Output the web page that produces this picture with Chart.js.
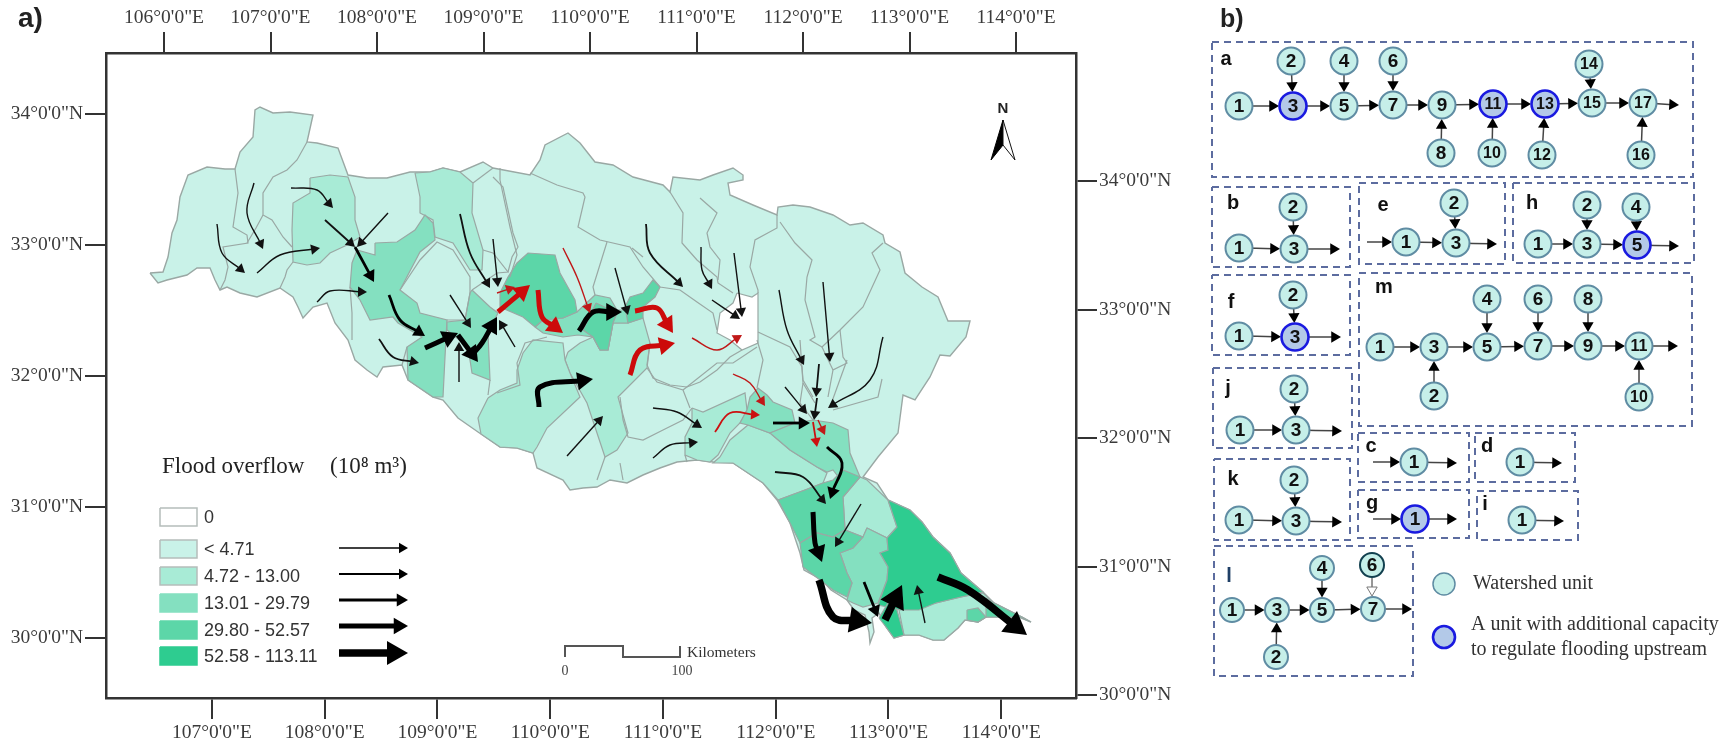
<!DOCTYPE html>
<html>
<head>
<meta charset="utf-8">
<title>Flood overflow</title>
<script src="https://cdn.jsdelivr.net/npm/chart.js@4/dist/chart.umd.min.js"></script>
<style>
  html, body { margin: 0; padding: 0; background: #fff; }
  #mapChart { position: absolute; left: 0; top: 0; }
  #netChart { position: absolute; left: 1190px; top: 0; }
</style>
</head>
<body>
<canvas id="mapChart" width="1190" height="748"></canvas>
<canvas id="netChart" width="534" height="748"></canvas>
<script>
// ---- graticule ticks (degrees) ----
const topLon = [106, 107, 108, 109, 110, 111, 112, 113, 114];
const bottomLon = [107, 108, 109, 110, 111, 112, 113, 114];
const leftLat = [30, 31, 32, 33, 34];
const rightLat = [30, 31, 32, 33, 34];

// ---- legend ----
const legendLabels = ['0', '< 4.71', '4.72 - 13.00', '13.01 - 29.79', '29.80 - 52.57', '52.58 - 113.11'];
const classColors = ['#ffffff', '#c9f2e8', '#a8ebd6', '#84e0c0', '#5cd6a8', '#2ecc90'];

// ---- map geometry, in map units east / south of the frame corner ----
const basinOutline = [[44,220],[57,219],[62,204],[66,180],[71,167],[74,144],[82,122],[101,114],[119,116],[129,116],[134,99],[147,84],[149,57],[154,54],[167,60],[184,59],[207,62],[201,89],[211,90],[232,95],[242,122],[261,125],[281,125],[304,119],[324,119],[337,115],[354,119],[377,109],[387,115],[424,122],[434,107],[439,92],[462,80],[474,90],[489,109],[507,112],[527,124],[557,132],[564,139],[567,124],[594,127],[607,122],[627,115],[637,122],[637,127],[622,130],[624,142],[647,152],[671,162],[672,154],[687,152],[704,154],[727,162],[744,172],[757,170],[777,182],[779,190],[794,199],[799,220],[816,234],[832,244],[842,268],[864,268],[860,284],[844,303],[834,302],[824,324],[809,347],[797,342],[792,380],[772,404],[757,424],[771,430],[782,447],[804,457],[816,469],[827,484],[844,500],[855,520],[877,539],[888,550],[916,564],[925,569],[913,564],[880,564],[872,569],[859,567],[852,575],[838,587],[827,587],[813,582],[798,582],[788,585],[780,574],[773,560],[766,565],[768,579],[764,590],[763,579],[759,562],[748,557],[741,547],[725,537],[716,527],[698,517],[694,500],[684,470],[671,447],[657,430],[642,420],[627,410],[607,409],[591,407],[571,409],[554,415],[537,422],[521,430],[504,427],[491,434],[477,435],[464,437],[457,427],[431,415],[427,400],[411,395],[394,394],[372,379],[352,365],[337,347],[327,344],[302,327],[296,312],[277,314],[271,324],[261,317],[249,307],[242,287],[229,270],[221,250],[207,254],[197,265],[192,254],[187,244],[174,235],[151,244],[134,240],[121,234],[114,237],[109,227],[104,215],[91,215],[81,222],[61,227],[52,230]];

const zeroUnit = [[631,240],[646,244],[652,240],[652,290],[636,297],[624,287],[611,280],[614,260],[627,250]];

const unitNorthA = [[309,120],[324,119],[337,115],[354,119],[367,130],[366,160],[377,197],[376,217],[364,217],[347,190],[329,184],[327,167],[314,160],[314,144]];
const unitNorthB = [[204,125],[224,122],[242,124],[249,144],[249,167],[254,184],[241,192],[224,200],[214,210],[201,212],[187,209],[186,177],[187,150],[204,140]];
const unitCentre = [[462,299],[474,290],[487,284],[494,297],[502,297],[507,270],[522,270],[537,265],[544,290],[541,315],[512,344],[522,380],[511,397],[499,404],[491,380],[481,350],[464,320],[459,307]];
const unitCentreWest = [[382,345],[394,337],[411,330],[411,317],[417,300],[427,287],[457,290],[459,307],[464,320],[474,344],[441,375],[431,394],[427,400],[411,395],[394,394],[375,381],[372,365]];
const unitSouthA = [[614,404],[624,387],[642,372],[664,380],[684,397],[711,414],[721,420],[717,430],[699,437],[672,447],[657,430],[642,420],[627,410],[607,410]];
const unitSouthB = [[586,355],[597,359],[639,340],[641,357],[634,370],[624,380],[612,402],[604,409],[591,407],[579,402],[579,384],[586,370]];
const unitSouthC = [[754,424],[761,427],[782,447],[791,474],[781,485],[761,475],[757,484],[739,477],[737,444]];
const unitSouthD = [[793,557],[830,550],[855,544],[877,540],[888,550],[880,564],[872,569],[859,567],[852,575],[838,587],[827,587],[813,582],[798,582]];

const unitWest = [[269,190],[291,189],[309,177],[319,162],[327,170],[329,187],[314,199],[294,237],[311,250],[314,260],[341,267],[339,304],[337,344],[327,344],[302,327],[301,294],[316,284],[292,270],[287,264],[264,267],[254,247],[244,234],[246,210],[251,197],[269,202]];
const unitWestB = [[366,237],[384,254],[392,260],[382,280],[384,327],[366,320],[362,294],[341,277],[341,269],[359,267],[364,240]];
const unitMiddle = [[429,274],[437,267],[457,265],[471,259],[489,242],[504,245],[511,257],[522,257],[522,270],[507,270],[502,297],[494,297],[487,284],[472,282],[457,284],[437,280]];
const unitRiverA = [[641,357],[644,344],[652,335],[661,342],[667,349],[686,357],[689,370],[667,379],[664,380],[642,372],[634,370]];
const unitRiverB = [[689,370],[707,367],[727,370],[742,377],[744,400],[754,424],[737,430],[727,417],[721,419],[711,414],[684,397],[664,380]];
const unitLower = [[761,475],[781,485],[782,497],[774,500],[782,514],[781,527],[772,550],[757,554],[747,550],[741,547],[746,530],[741,520],[734,500],[747,495],[757,484]];

const unitUpperDark = [[402,224],[411,210],[422,200],[449,202],[454,220],[469,247],[471,259],[457,265],[437,267],[429,274],[417,264],[394,254],[394,240]];
const unitMiddleDark = [[490,250],[511,260],[507,270],[502,297],[494,297],[487,284],[477,277]];
const unitMiddleLobe = [[519,254],[524,244],[537,240],[547,227],[554,234],[549,244],[537,254],[537,265],[522,270]];
const unitMainA = [[672,447],[699,437],[717,430],[727,427],[737,417],[754,424],[737,444],[739,477],[727,484],[711,480],[694,490],[684,470]];
const unitMainB = [[694,490],[711,480],[727,484],[739,477],[757,484],[747,495],[734,500],[741,520],[746,530],[741,544],[727,537],[714,527],[697,514]];
const unitCoastA = [[861,557],[872,555],[880,564],[872,569],[861,567]];
const unitCoastB = [[880,545],[888,550],[916,564],[925,569],[913,564],[880,564]];

const unitOutlet = [[782,447],[804,457],[816,469],[827,484],[844,500],[848,507],[855,520],[877,539],[855,544],[830,550],[813,557],[795,557],[772,552],[781,527],[782,514],[774,500],[782,497],[781,485],[791,474]];
const unitOutletSouth = [[773,565],[782,550],[791,557],[798,582],[788,585],[780,574]];

const class2Units = [unitNorthA, unitNorthB, unitCentre, unitCentreWest, unitSouthA, unitSouthB, unitSouthC, unitSouthD];
const class3Units = [unitWest, unitWestB, unitMiddle, unitRiverA, unitRiverB, unitLower];
const class4Units = [unitUpperDark, unitMiddleDark, unitMiddleLobe, unitMainA, unitMainB, unitCoastA, unitCoastB];
const class5Units = [unitOutlet, unitOutletSouth];

const innerBorders = [
  [[129,116],[132,140],[127,174],[141,182],[142,190],[117,194],[122,214],[119,227],[114,237]],
  [[201,89],[191,107],[181,117],[167,124],[157,140],[157,162],[166,167],[177,184],[186,194]],
  [[157,162],[150,175],[141,190]],
  [[187,209],[181,217],[179,224],[174,235]],
  [[244,234],[246,260],[246,287]],
  [[301,294],[296,312]],
  [[294,237],[314,207],[331,189],[347,197],[364,224],[364,240],[359,267],[341,267]],
  [[377,197],[387,200],[402,219],[391,220],[366,237]],
  [[367,130],[387,115]],
  [[387,124],[397,134],[407,180],[412,194],[406,204],[402,219]],
  [[394,115],[394,127],[404,174],[411,202],[404,224]],
  [[424,120],[451,132],[477,140],[479,144],[472,174],[494,187],[524,194],[537,214],[554,234],[574,237],[591,249],[607,260],[611,277]],
  [[564,139],[577,160],[576,190],[591,207],[611,224],[612,230],[627,240]],
  [[594,145],[611,160],[601,180],[604,194],[614,207],[612,227]],
  [[501,189],[487,234],[489,242]],
  [[526,195],[537,204]],
  [[671,162],[671,175],[649,187],[644,214],[652,237],[652,240]],
  [[674,169],[689,190],[706,207],[701,224],[699,247],[709,284],[704,287],[716,294],[734,277],[757,254],[774,217],[766,200],[777,190]],
  [[652,279],[684,294],[696,314],[697,327],[707,344]],
  [[734,277],[737,304],[741,310],[727,317],[722,344]],
  [[716,294],[727,317]],
  [[636,297],[624,304],[611,317],[594,329],[581,334],[564,332],[547,325],[541,312],[544,290]],
  [[651,287],[657,307],[651,335]],
  [[541,315],[551,329],[577,337],[584,355]],
  [[577,337],[611,310],[627,310],[651,294]],
  [[514,344],[517,367],[522,384],[537,387],[557,377],[577,367],[586,355]],
  [[491,427],[499,404]],
  [[514,410],[517,427]],
  [[579,402],[581,409]],
  [[694,287],[697,330],[709,350]],
  [[741,307],[724,354]],
  [[727,357],[772,344],[776,326]],
  [[707,367],[694,350],[697,330]],
  [[382,342],[384,327]],
  [[391,340],[414,332],[411,310],[419,290],[441,284]]
];

// ---- flow arrows by overflow class ----
const blackArrows1 = [
  [[111,171],[116,200],[139,220]], [[148,130],[141,160],[157,196]], [[151,220],[174,202],[214,195]],
  [[185,135],[211,137],[227,155]], [[282,160],[251,194]], [[211,249],[224,238],[261,239]],
  [[353,329],[353,289]], [[344,242],[365,275]], [[409,294],[393,267]], [[387,186],[392,234]],
  [[509,215],[522,262]], [[595,194],[596,217],[606,236]], [[628,200],[636,264]], [[606,247],[634,266]],
  [[673,237],[681,277],[698,312]], [[717,229],[724,309]], [[777,284],[764,327],[722,355]],
  [[679,334],[701,361]], [[547,355],[571,359],[596,375]], [[547,405],[564,392],[592,389]],
  [[461,403],[497,363]], [[755,451],[729,494]], [[819,570],[811,532]]
];
const blackArrows2 = [
  [[219,167],[249,194]], [[273,286],[287,304],[313,310]], [[354,161],[364,200],[384,235]],
  [[540,171],[544,200],[577,234]], [[713,311],[710,344]], [[711,345],[708,367]], [[669,419],[697,424],[720,451]]
];
const blackArrows3 = [
  [[249,194],[268,229]], [[283,242],[294,267],[319,283]], [[667,370],[704,370]], [[758,529],[772,564]],
  [[721,394],[736,410],[724,446]]
];
const blackArrows4 = [
  [[319,295],[352,280]], [[352,282],[372,309]], [[366,302],[376,290],[391,264]], [[473,278],[487,259],[516,259]],
  [[433,354],[434,334],[487,326]], [[707,459],[709,490],[716,509]]
];
const blackArrows5 = [
  [[713,527],[727,564],[766,570]], [[779,567],[796,532]], [[832,524],[862,537],[921,582]]
];
const redArrows1 = [
  [[391,240],[409,234]], [[457,195],[471,224],[484,260]], [[586,285],[611,297],[636,282]],
  [[627,321],[644,330],[659,353]], [[712,367],[719,382]]
];
const redArrows2 = [
  [[609,379],[624,360],[654,362]], [[707,369],[711,394]]
];
const redArrows4 = [
  [[392,259],[424,232]], [[432,237],[436,264],[457,280]], [[529,258],[551,255],[567,280]], [[524,322],[534,297],[569,290]]
];
const classLineWidths = [0, 1.4, 1.8, 2.8, 5, 7.5];
const classHeadSizes = [0, 6, 6, 7.5, 10.5, 15];

// ---- network panels: nodes as [label, x, y], links as [from, to] ----
const nodesA = [['1',49,106],['3',103,106],['5',154,106],['7',203,105],['9',252,105],['11',303,104],['13',355,104],['15',402,103],['17',453,103],['2',101,61],['4',154,61],['6',203,61],['8',251,153],['10',302,153],['12',352,155],['14',399,64],['16',451,155]];
const linksA = [['1','3'],['3','5'],['5','7'],['7','9'],['9','11'],['11','13'],['13','15'],['15','17'],['2','3'],['4','5'],['6','7'],['8','9'],['10','11'],['12','13'],['14','15'],['16','17']];
const nodesB = [['2',103,207],['1',49,248],['3',104,249]];
const nodesE = [['2',264,203],['1',216,242],['3',266,243]];
const nodesH = [['2',397,205],['4',446,207],['1',348,244],['3',397,244],['5',447,245]];
const nodesF = [['2',103,295],['1',49,336],['3',105,337]];
const nodesM = [['4',297,299],['6',348,299],['8',398,299],['1',190,347],['3',244,347],['5',297,347],['7',348,346],['9',398,346],['11',449,346],['2',244,396],['10',449,397]];
const nodesJ = [['2',104,389],['1',50,430],['3',106,430]];
const nodesK = [['2',104,480],['1',49,520],['3',106,521]];
const nodesC = [['1',224,462]];
const nodesD = [['1',330,462]];
const nodesG = [['1',225,519]];
const nodesI = [['1',332,520]];
const nodesL = [['6',182,565],['4',132,568],['1',42,610],['3',87,610],['5',132,610],['7',183,609],['2',86,657]];
const linksTriple = [['1','3'],['2','3']];
const linksH = [['1','3'],['3','5'],['2','3'],['4','5']];
const linksM = [['1','3'],['3','5'],['5','7'],['7','9'],['9','11'],['2','3'],['4','5'],['6','7'],['8','9'],['10','11']];
const linksL = [['1','3'],['3','5'],['5','7'],['2','3'],['4','5']];

const panels = [
  { name: 'a', box: [22,42,503,177], mark: [36,59], nodes: nodesA, links: linksA, regulating: ['3','11','13'], out: ['17',489,105] },
  { name: 'b', box: [22,187,160,267], mark: [43,203], nodes: nodesB, links: linksTriple, regulating: [], out: ['3',150,249] },
  { name: 'e', box: [169,183,315,264], mark: [193,205], nodes: nodesE, links: linksTriple, regulating: [], inflow: ['1',177,242], out: ['3',307,244] },
  { name: 'h', box: [323,183,504,263], mark: [342,203], nodes: nodesH, links: linksH, regulating: ['5'], out: ['5',489,246] },
  { name: 'f', box: [22,275,160,355], mark: [41,302], nodes: nodesF, links: linksTriple, regulating: ['3'], out: ['3',151,337] },
  { name: 'm', box: [169,273,502,426], mark: [194,287], nodes: nodesM, links: linksM, regulating: [], out: ['11',488,346] },
  { name: 'j', box: [23,368,162,448], mark: [38,388], nodes: nodesJ, links: linksTriple, regulating: [], out: ['3',152,431] },
  { name: 'k', box: [24,459,160,540], mark: [43,479], nodes: nodesK, links: linksTriple, regulating: [], out: ['3',152,522] },
  { name: 'c', box: [168,433,279,482], mark: [181,446], nodes: nodesC, links: [], regulating: [], inflow: ['1',183,462], out: ['1',267,463] },
  { name: 'd', box: [285,433,385,482], mark: [297,446], nodes: nodesD, links: [], regulating: [], out: ['1',372,463] },
  { name: 'g', box: [168,490,279,538], mark: [182,503], nodes: nodesG, links: [], regulating: ['1'], inflow: ['1',183,519], out: ['1',267,519] },
  { name: 'i', box: [287,491,388,540], mark: [295,504], nodes: nodesI, links: [], regulating: [], out: ['1',374,521] },
  { name: 'l', box: [24,546,223,676], mark: [39,576], nodes: nodesL, links: linksL, regulating: [], out: ['7',222,609] }
];

const serif = '"Liberation Serif", serif';
const sans = '"Liberation Sans", Arial, sans-serif';
const frameColor = '#333333';

function toPoints(list) {
  return list.map(function (p) { return { x: p[0], y: p[1] }; });
}

// Arrow shaft with a triangle point marker as the head; the tip lands on the last data point
function arrowDataset(points, width, headSize, color, headColor) {
  const last = points[points.length - 1];
  const prev = points[points.length - 2];
  const dx = last[0] - prev[0];
  const dy = last[1] - prev[1];
  const len = Math.hypot(dx, dy) || 1;
  const shifted = points.slice(0, -1).concat([[last[0] - dx / len * headSize, last[1] - dy / len * headSize]]);
  const radii = shifted.map(function (p, i) { return i === shifted.length - 1 ? headSize : 0; });
  return {
    data: toPoints(shifted),
    showLine: true,
    tension: 0.4,
    borderColor: color,
    borderWidth: width,
    fill: false,
    pointStyle: 'triangle',
    pointRadius: radii,
    pointRotation: Math.atan2(dx, -dy) * 180 / Math.PI,
    pointBackgroundColor: headColor || color,
    pointBorderColor: headColor || color,
    pointBorderWidth: 0
  };
}

function polygonDataset(list, fill, stroke, width) {
  return {
    data: toPoints(list.concat([list[0]])),
    showLine: true,
    tension: 0,
    fill: 'shape',
    backgroundColor: fill,
    borderColor: stroke,
    borderWidth: width,
    pointRadius: 0
  };
}

function lineDataset(list, color, width, dash) {
  return {
    data: toPoints(list),
    showLine: true,
    tension: 0,
    fill: false,
    borderColor: color,
    borderWidth: width,
    borderDash: dash || [],
    pointRadius: 0
  };
}

// Later entries sit on top of earlier ones
function stack(datasets) {
  datasets.forEach(function (d, i) { d.order = -i; });
  return datasets;
}

// Plugin for text placed in data coordinates
function textPlugin(items) {
  return {
    id: 'placedText',
    afterDraw: function (chart) {
      const ctx = chart.ctx;
      ctx.save();
      ctx.textBaseline = 'middle';
      items.forEach(function (t) {
        ctx.font = t.font;
        ctx.fillStyle = t.color || '#222';
        ctx.textAlign = t.align || 'left';
        ctx.fillText(t.text, chart.scales.x.getPixelForValue(t.x), chart.scales.y.getPixelForValue(t.y));
      });
      ctx.restore();
    }
  };
}

// ---- map chart ----
const mapSets = [];
const unitStroke = '#9aa8a4';
mapSets.push(polygonDataset(basinOutline, classColors[1], unitStroke, 1.4));
mapSets.push(polygonDataset(zeroUnit, classColors[0], unitStroke, 1.2));
[class2Units, class3Units, class4Units, class5Units].forEach(function (group, g) {
  group.forEach(function (u) {
    mapSets.push(polygonDataset(u, classColors[g + 2], unitStroke, 1.2));
  });
});
innerBorders.forEach(function (b) { mapSets.push(lineDataset(b, unitStroke, 1.2)); });

[[blackArrows1, 1, '#111'], [blackArrows2, 2, '#111'], [blackArrows3, 3, '#000'], [blackArrows4, 4, '#000'], [blackArrows5, 5, '#000'],
 [redArrows1, 1, '#c01818'], [redArrows2, 2, '#cc1010'], [redArrows4, 4, '#cc0a0a']].forEach(function (g) {
  g[0].forEach(function (a) {
    mapSets.push(arrowDataset(a, classLineWidths[g[1]], classHeadSizes[g[1]], g[2]));
  });
});

// legend swatches and arrows
const swatchTops = [455, 487, 514, 541, 568, 594];
legendLabels.forEach(function (label, i) {
  const top = swatchTops[i];
  const stroke = i < 3 ? '#b5bdbb' : classColors[i];
  mapSets.push(polygonDataset([[54, top], [91, top], [91, top + 18], [54, top + 18]], classColors[i], stroke, 1.5));
  if (i > 0) {
    const y = [495, 521, 547, 573, 600][i - 1];
    mapSets.push(arrowDataset([[233, y], [302, y]], classLineWidths[i], classHeadSizes[i] - (i > 3 ? 1 : 0), '#000'));
  }
});

// north arrow and scale bar
mapSets.push(polygonDataset([[897,67],[885,107],[897,92]], '#000', '#000', 1));
mapSets.push(polygonDataset([[897,67],[909,107],[897,92]], '#fff', '#111', 1));
mapSets.push(lineDataset([[459,604],[459,593],[517,593],[517,604],[574,604],[574,593]], '#555', 2));

const mapText = [
  { text: 'a)', x: -88, y: -34, font: 'bold 28px ' + sans, color: '#222' },
  { text: 'Flood overflow', x: 56, y: 414, font: '23px ' + serif },
  { text: '(10\u2078 m\u00b3)', x: 224, y: 414, font: '23px ' + serif },
  { text: 'N', x: 897, y: 56, font: 'bold 15px ' + sans, align: 'center' },
  { text: 'Kilometers', x: 581, y: 600, font: '15.5px ' + serif, color: '#333' },
  { text: '0', x: 459, y: 618, font: '14px ' + serif, color: '#444', align: 'center' },
  { text: '100', x: 576, y: 618, font: '14px ' + serif, color: '#444', align: 'center' }
];
legendLabels.forEach(function (label, i) {
  mapText.push({ text: label, x: 98, y: swatchTops[i] + 10, font: '18px ' + sans, color: '#333' });
});

function tickAxis(position, min, max, values, suffix, size) {
  const horizontal = position === 'top' || position === 'bottom';
  return {
    type: 'linear',
    axis: horizontal ? 'x' : 'y',
    position: position,
    min: min,
    max: max,
    afterBuildTicks: function (scale) {
      scale.ticks = values.map(function (v) { return { value: v }; });
    },
    afterFit: function (scale) {
      if (horizontal) { scale.height = size; } else { scale.width = size; }
    },
    ticks: {
      autoSkip: false,
      maxRotation: 0,
      padding: 2,
      color: '#3a3a3a',
      font: { family: serif, size: 19.5 },
      callback: function (v) { return v + '\u00b00\'0"' + suffix; }
    },
    grid: { drawOnChartArea: false, drawTicks: true, tickLength: 21, color: frameColor, lineWidth: 2 },
    border: { display: true, color: frameColor, width: 2.5 }
  };
}

new Chart(document.getElementById('mapChart'), {
  type: 'scatter',
  data: { datasets: stack(mapSets) },
  options: {
    responsive: false,
    animation: false,
    layout: { padding: 0, autoPadding: false },
    plugins: { legend: { display: false }, tooltip: { enabled: false } },
    scales: {
      x: { type: 'linear', display: false, min: 0, max: 970 },
      y: { type: 'linear', display: false, reverse: true, min: 0, max: 645 },
      lonTop: tickAxis('top', 105.455, 114.563, topLon, 'E', 53),
      lonBottom: tickAxis('bottom', 106.06, 114.663, bottomLon, 'E', 50),
      latLeft: tickAxis('left', 29.542, 34.468, leftLat, 'N', 106),
      latRight: tickAxis('right', 29.977, 34.998, rightLat, 'N', 114)
    }
  },
  plugins: [textPlugin(mapText)]
});

// ---- network chart ----
const nodeFill = '#c6efe9';
const nodeStroke = '#5f8ca3';
const regFill = '#b3c9e8';
const regStroke = '#1a1ae0';
const linkColor = '#444';

const netSets = [];
const netText = [
  { text: 'b)', x: 30, y: 20, font: 'bold 25px ' + sans, color: '#222' },
  { text: 'Watershed unit', x: 283, y: 584, font: '20px ' + serif, color: '#333' },
  { text: 'A unit with additional capacity', x: 281, y: 625, font: '20px ' + serif, color: '#333' },
  { text: 'to regulate flooding upstream', x: 281, y: 650, font: '20px ' + serif, color: '#333' }
];

function linkArrow(from, to, r) {
  const dx = to[0] - from[0];
  const dy = to[1] - from[1];
  const len = Math.hypot(dx, dy) || 1;
  const tip = [to[0] - dx / len * r, to[1] - dy / len * r];
  return arrowDataset([from, tip], 1.5, 6.5, linkColor, '#000');
}

panels.forEach(function (p) {
  const b = p.box;
  const r = p.name === 'l' ? 12 : 13.5;
  netSets.push(lineDataset([[b[0],b[1]],[b[2],b[1]],[b[2],b[3]],[b[0],b[3]],[b[0],b[1]]], '#5c6c9f', 2, [7, 5]));
  netText.push({ text: p.name, x: p.mark[0], y: p.mark[1], font: 'bold 20px ' + sans, color: p.name === 'l' ? '#1f3f66' : '#111', align: 'center' });

  const lookup = {};
  p.nodes.forEach(function (n) { lookup[n[0]] = [n[1], n[2]]; });
  p.links.forEach(function (l) { netSets.push(linkArrow(lookup[l[0]], lookup[l[1]], r + 0.5)); });
  if (p.inflow) { netSets.push(linkArrow([p.inflow[1], p.inflow[2]], lookup[p.inflow[0]], r + 0.5)); }
  if (p.out) { netSets.push(linkArrow(lookup[p.out[0]], [p.out[1], p.out[2]], 0)); }

  netSets.push({
    data: toPoints(p.nodes.map(function (n) { return [n[1], n[2]]; })),
    showLine: false,
    pointRadius: r,
    pointBorderWidth: p.nodes.map(function (n) { return p.regulating.indexOf(n[0]) >= 0 ? 2.6 : 2; }),
    pointBackgroundColor: p.nodes.map(function (n) { return p.regulating.indexOf(n[0]) >= 0 ? regFill : nodeFill; }),
    pointBorderColor: p.nodes.map(function (n) {
      if (p.regulating.indexOf(n[0]) >= 0) { return regStroke; }
      return p.name === 'l' && n[0] === '6' ? '#12404f' : nodeStroke;
    })
  });
  p.nodes.forEach(function (n) {
    const font = n[0].length > 1 ? 'bold 16px ' : 'bold 19px ';
    netText.push({ text: n[0], x: n[1], y: n[2] + 0.5, font: font + sans, color: '#111', align: 'center' });
  });
});

// 6 -> 7 in panel l has a hollow head
netSets.push(lineDataset([[182,578],[182,593]], '#888', 1));
netSets.push({
  data: [{ x: 182, y: 590 }],
  showLine: false,
  pointStyle: 'triangle',
  pointRotation: 180,
  pointRadius: 6,
  pointBackgroundColor: '#fff',
  pointBorderColor: '#777',
  pointBorderWidth: 1
});

// key on the lower right
netSets.push({
  data: toPoints([[254, 584], [254, 637]]),
  showLine: false,
  pointRadius: 11,
  pointBorderWidth: [1.5, 2.6],
  pointBackgroundColor: [nodeFill, regFill],
  pointBorderColor: [nodeStroke, regStroke]
});

new Chart(document.getElementById('netChart'), {
  type: 'scatter',
  data: { datasets: stack(netSets) },
  options: {
    responsive: false,
    animation: false,
    layout: { padding: 0, autoPadding: false },
    plugins: { legend: { display: false }, tooltip: { enabled: false } },
    scales: {
      x: { type: 'linear', display: false, min: 0, max: 534 },
      y: { type: 'linear', display: false, reverse: true, min: 0, max: 748 }
    }
  },
  plugins: [textPlugin(netText)]
});
</script>
</body>
</html>
